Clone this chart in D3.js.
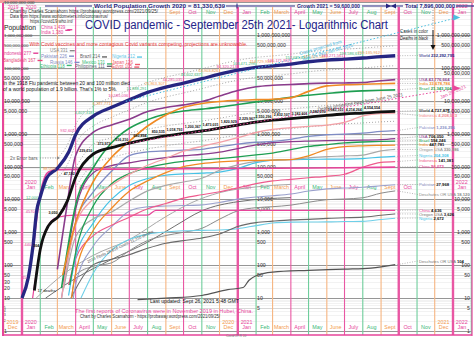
<!DOCTYPE html>
<html><head><meta charset="utf-8">
<script src="https://cdn.jsdelivr.net/npm/d3@7"></script>
<style>body{margin:0;background:#fff}svg{display:block;font-family:"Liberation Sans",Arial,sans-serif}</style>
</head><body><svg id="c" width="474" height="338"></svg>
<script>
// ---- data: cumulative counts, [date, value] ----
const worldCases = [["2020-01-01",10],["2020-01-12",45],["2020-01-20",440],["2020-01-26",4570],["2020-02-01",12000],["2020-02-12",45000],["2020-03-01",88000],["2020-03-20",270000],["2020-04-01",932605],["2020-05-01",3407318],["2020-06-01",6287771],["2020-07-01",10585036],["2020-08-01",17888291],["2020-09-01",25863307],["2020-10-01",34285035],["2020-11-01",46602637],["2020-12-01",63903826],["2021-01-01",84320213],["2021-02-01",103471298],["2021-03-01",114729918],["2021-04-01",130171892],["2021-05-01",152685630],["2021-06-01",171425548],["2021-07-01",183271561],["2021-08-01",198586612],["2021-09-01",219135912],["2021-09-25",232292795]];
const worldDeaths = [["2020-01-22",17],["2020-02-01",304],["2020-02-15",1600],["2020-03-03",3050],["2020-03-18",9000],["2020-04-01",47192],["2020-05-01",239610],["2020-06-01",373973],["2020-07-01",516210],["2020-08-01",680894],["2020-09-01",850535],["2020-10-01",1018793],["2020-11-01",1200367],["2020-12-01",1473031],["2021-01-01",1820929],["2021-02-01",2229967],["2021-03-01",2550296],["2021-04-01",2832107],["2021-05-01",3183601],["2021-06-01",3582210],["2021-07-01",3943103],["2021-08-01",4214264],["2021-09-01",4554554],["2021-09-25",4737877]];
const usaCases = [["2020-03-01",75],["2020-03-15",3500],["2020-04-01",215000],["2020-05-01",1100000],["2020-06-01",1840000],["2020-07-01",2740000],["2020-08-01",4710000],["2020-09-01",6180000],["2020-10-01",7450000],["2020-11-01",9400000],["2020-12-01",13900000],["2021-01-01",20400000],["2021-02-01",26600000],["2021-03-01",29400000],["2021-04-01",31000000],["2021-05-01",33000000],["2021-06-01",34100000],["2021-07-01",34600000],["2021-08-01",35800000],["2021-09-01",40500000],["2021-09-25",43776664]];
const indiaCases = [["2020-03-10",50],["2020-04-01",1998],["2020-05-01",35000],["2020-06-01",190000],["2020-07-01",585000],["2020-08-01",1700000],["2020-09-01",3690000],["2020-10-01",6300000],["2020-11-01",8180000],["2020-12-01",9460000],["2021-01-01",10290000],["2021-02-01",10760000],["2021-03-01",11100000],["2021-04-01",12200000],["2021-05-01",19200000],["2021-06-01",28200000],["2021-07-01",30400000],["2021-08-01",31700000],["2021-09-01",32800000],["2021-09-25",33678786]];
const brazilCases = [["2020-03-08",20],["2020-04-01",6800],["2020-05-01",92000],["2020-06-01",526000],["2020-07-01",1450000],["2020-08-01",2660000],["2020-09-01",3950000],["2020-10-01",4850000],["2020-11-01",5550000],["2020-12-01",6390000],["2021-01-01",7700000],["2021-02-01",9200000],["2021-03-01",10600000],["2021-04-01",12800000],["2021-05-01",14700000],["2021-06-01",16600000],["2021-07-01",18600000],["2021-08-01",19900000],["2021-09-01",20800000],["2021-09-25",21343304]];
const indonesiaCases = [["2020-03-08",10],["2020-04-01",1677],["2020-05-01",10500],["2020-06-01",26900],["2020-07-01",57800],["2020-08-01",109000],["2020-09-01",177000],["2020-10-01",292000],["2020-11-01",410000],["2020-12-01",543000],["2021-01-01",751000],["2021-02-01",1080000],["2021-03-01",1340000],["2021-04-01",1510000],["2021-05-01",1670000],["2021-06-01",1820000],["2021-07-01",2180000],["2021-08-01",3440000],["2021-09-01",4100000],["2021-09-25",4208013]];
const pakistanCases = [["2020-03-08",10],["2020-04-01",2039],["2020-05-01",16800],["2020-06-01",72000],["2020-07-01",213000],["2020-08-01",279000],["2020-09-01",296000],["2020-10-01",313000],["2020-11-01",333000],["2020-12-01",400000],["2021-01-01",482000],["2021-02-01",546000],["2021-03-01",581000],["2021-04-01",672000],["2021-05-01",820000],["2021-06-01",924000],["2021-07-01",958000],["2021-08-01",1030000],["2021-09-01",1170000],["2021-09-25",1236296]];
const oregonCases = [["2020-03-12",20],["2020-04-01",736],["2020-05-01",2579],["2020-06-01",4131],["2020-07-01",8931],["2020-08-01",18131],["2020-09-01",26713],["2020-10-01",33862],["2020-11-01",43955],["2020-12-01",76654],["2021-01-01",112260],["2021-02-01",143391],["2021-03-01",155536],["2021-04-01",163000],["2021-05-01",182000],["2021-06-01",199000],["2021-07-01",209000],["2021-08-01",223000],["2021-09-01",298000],["2021-09-25",330986]];
const nigeriaCases = [["2020-03-20",12],["2020-04-01",174],["2020-05-01",1932],["2020-06-01",10162],["2020-07-01",26484],["2020-08-01",43151],["2020-09-01",54247],["2020-10-01",59287],["2020-11-01",62853],["2020-12-01",67838],["2021-01-01",87510],["2021-02-01",131242],["2021-03-01",155657],["2021-04-01",162593],["2021-05-01",165110],["2021-06-01",166982],["2021-07-01",167867],["2021-08-01",174315],["2021-09-01",193658],["2021-09-25",204308]];
const chinaCases = [["2020-01-20",291],["2020-01-25",1975],["2020-02-01",14380],["2020-02-15",68500],["2020-03-01",79968],["2020-04-01",81554],["2020-07-01",83534],["2021-01-01",87071],["2021-07-01",91779],["2021-09-25",96073]];
const deschutesCases = [["2020-03-25",10],["2020-04-01",50],["2020-05-01",93],["2020-06-01",118],["2020-07-01",276],["2020-08-01",560],["2020-09-01",800],["2020-10-01",1000],["2020-11-01",1320],["2020-12-01",2500],["2021-01-01",4500],["2021-02-01",5600],["2021-03-01",6000],["2021-04-01",6700],["2021-05-01",8200],["2021-06-01",9800],["2021-07-01",10300],["2021-08-01",11200],["2021-09-01",15500],["2021-09-25",18120]];
const usaDeaths = [["2020-03-10",26],["2020-04-01",5100],["2020-05-01",65000],["2020-06-01",107000],["2020-07-01",130000],["2020-08-01",158000],["2020-09-01",187000],["2020-10-01",212000],["2020-11-01",236000],["2020-12-01",273000],["2021-01-01",352000],["2021-02-01",452000],["2021-03-01",530000],["2021-04-01",568000],["2021-05-01",591000],["2021-06-01",611000],["2021-07-01",622000],["2021-08-01",630000],["2021-09-01",657000],["2021-09-25",706050]];
const brazilDeaths = [["2020-03-22",25],["2020-04-01",240],["2020-05-01",6400],["2020-06-01",29900],["2020-07-01",60700],["2020-08-01",93000],["2020-09-01",121000],["2020-10-01",144000],["2020-11-01",159000],["2020-12-01",173000],["2021-01-01",195000],["2021-02-01",225000],["2021-03-01",255000],["2021-04-01",325000],["2021-05-01",407000],["2021-06-01",465000],["2021-07-01",520000],["2021-08-01",556000],["2021-09-01",581000],["2021-09-25",594246]];
const indiaDeaths = [["2020-03-25",10],["2020-04-01",58],["2020-05-01",1150],["2020-06-01",5400],["2020-07-01",17800],["2020-08-01",36500],["2020-09-01",65400],["2020-10-01",98700],["2020-11-01",122000],["2020-12-01",138000],["2021-01-01",149000],["2021-02-01",154000],["2021-03-01",157000],["2021-04-01",162000],["2021-05-01",212000],["2021-06-01",331000],["2021-07-01",400000],["2021-08-01",425000],["2021-09-01",439000],["2021-09-25",447781]];
const indonesiaDeaths = [["2020-03-20",25],["2020-04-01",157],["2020-05-01",792],["2020-06-01",1641],["2020-07-01",2876],["2020-08-01",5193],["2020-09-01",7505],["2020-10-01",10972],["2020-11-01",13869],["2020-12-01",17081],["2021-01-01",22329],["2021-02-01",29998],["2021-03-01",36325],["2021-04-01",40858],["2021-05-01",45521],["2021-06-01",50404],["2021-07-01",58024],["2021-08-01",95723],["2021-09-01",133676],["2021-09-25",141381]];
const pakistanDeaths = [["2020-03-28",10],["2020-04-01",26],["2020-05-01",385],["2020-06-01",1483],["2020-07-01",4395],["2020-08-01",5951],["2020-09-01",6298],["2020-10-01",6499],["2020-11-01",6795],["2020-12-01",8091],["2021-01-01",10176],["2021-02-01",11802],["2021-03-01",12896],["2021-04-01",14530],["2021-05-01",17957],["2021-06-01",20850],["2021-07-01",22281],["2021-08-01",23360],["2021-09-01",25889],["2021-09-25",27968]];
const chinaDeaths = [["2020-01-19",10],["2020-01-25",56],["2020-02-01",304],["2020-02-15",1666],["2020-03-01",2870],["2020-04-01",3312],["2020-08-01",3330],["2020-08-15",4634],["2021-09-25",4636]];
const oregonDeaths = [["2020-03-24",10],["2020-04-01",19],["2020-05-01",104],["2020-06-01",151],["2020-07-01",209],["2020-08-01",326],["2020-09-01",465],["2020-10-01",560],["2020-11-01",674],["2020-12-01",889],["2021-01-01",1502],["2021-02-01",1974],["2021-03-01",2181],["2021-04-01",2385],["2021-05-01",2468],["2021-06-01",2650],["2021-07-01",2768],["2021-08-01",2893],["2021-09-01",3290],["2021-09-25",3626]];
const nigeriaDeaths = [["2020-04-10",10],["2020-05-01",58],["2020-06-01",287],["2020-07-01",603],["2020-08-01",879],["2020-09-01",1023],["2020-10-01",1111],["2020-11-01",1145],["2020-12-01",1173],["2021-01-01",1289],["2021-02-01",1598],["2021-03-01",1907],["2021-04-01",2041],["2021-05-01",2063],["2021-06-01",2069],["2021-07-01",2120],["2021-08-01",2149],["2021-09-01",2444],["2021-09-25",2672]];
const deschutesDeaths = [["2020-07-15",9],["2020-09-01",10],["2020-11-01",12],["2020-12-15",18],["2021-01-10",21],["2021-01-20",35],["2021-02-01",48],["2021-03-01",62],["2021-05-01",70],["2021-07-01",76],["2021-08-15",82],["2021-09-25",104]];
const ebolaCases = [["2020-01-25",10],["2020-03-15",60],["2020-05-01",200],["2020-07-01",600],["2020-09-01",3000],["2020-10-15",8000],["2020-12-01",16000],["2021-02-01",24000],["2021-04-01",28616]];
const ebolaDeaths = [["2020-02-10",10],["2020-04-01",40],["2020-06-01",150],["2020-08-01",500],["2020-09-15",1500],["2020-11-01",4500],["2021-01-01",8500],["2021-04-01",11310]];

// world population (millions) shown at the top left
const popNames = ["China","India","USA","Indonesia","Pakistan","Brazil","Nigeria","Bangladesh","Russia","Mexico","Japan","Ethiopia","Philippines","Egypt"];
const popValues = [1439,1380,331,277,226,214,212,167,146,131,126,118,111,105];

const monthNames = ["Jan","Feb","March","April","May","June","July","Aug","Sept","Oct","Nov","Dec"];
const leftTicks = [1e10,1e9,5e8,1e8,5e7,1e7,5e6,1e6,5e5,1e5,5e4,1e4,5e3,1e3,500,100,50,30,20,10,5,4,3,2,1];
const midTicks = [1e9,5e8,5e7,1e7,5e6,1e6,5e5,1e5,5e4,1e4,5e3,1e3,500,100,50,10,5];
const rightTicks = [1e9,5e8,1e8,5e7,1e7,5e6,1e6,5e5,1e5,5e4,1e4,5e3,1e3,500,100,50,10,5,1];

// ---- scales ----
const P = d3.utcParse("%Y-%m-%d");
const fmt = d3.format(",");
const x = d3.scaleUtc().domain([P("2020-01-01"), P("2022-01-01")]).range([22, 453]);
const y = d3.scaleLog().domain([1, 1e10]).range([331, 2]);
const svg = d3.select("#c");

const PINK = "#e6459a", GREEN = "#3cb878", ORANGE = "#f39a4e";
const lineCol = ["#e957a3", "#6fcd9c", "#f6b581"];
const textCol = [PINK, GREEN, ORANGE];
const mIdx = m => ((m % 3) + 3) % 3;

// top band
svg.append("rect").attr("x", 0).attr("y", 0).attr("width", 474).attr("height", 3).attr("fill", "#f3a0a0");

// horizontal grid
const grid = [];
for (let e = 0; e < 10; e++) for (let k = 1; k < 10; k++) grid.push({v: k * Math.pow(10, e), k});
grid.push({v: 1e10, k: 1});
svg.append("g").selectAll("line").data(grid).join("line")
  .attr("x1", 3).attr("x2", 472)
  .attr("y1", d => Math.round(y(d.v)) + 0.5).attr("y2", d => Math.round(y(d.v)) + 0.5)
  .attr("stroke", d => d.k === 1 ? "#969696" : d.k === 5 ? "#c6c6c6" : "#ededed")
  .attr("stroke-width", d => d.k === 1 ? 1.1 : 0.7);

// vertical month lines
const months = d3.range(-1, 26).map(m => ({m, d: new Date(Date.UTC(2020, m, 1))}));
svg.append("g").selectAll("line").data(months).join("line")
  .attr("x1", d => x(d.d)).attr("x2", d => x(d.d)).attr("y1", 7).attr("y2", 335)
  .attr("stroke", d => lineCol[mIdx(d.m)])
  .attr("stroke-width", d => (d.m % 12 === 0 || d.m === 21) ? 2.4 : 1.1);
// frame
svg.append("line").attr("x1", 3).attr("x2", 3).attr("y1", 3).attr("y2", 336).attr("stroke", PINK).attr("stroke-width", 2);
svg.append("line").attr("x1", 472).attr("x2", 472).attr("y1", 3).attr("y2", 336).attr("stroke", PINK).attr("stroke-width", 1.2);
svg.append("line").attr("x1", 3).attr("x2", 472).attr("y1", 335).attr("y2", 335).attr("stroke", PINK).attr("stroke-width", 1.5);

// month label rows
function monthRow(yPos, list, yearFor, yearGap) {
  const g = svg.append("g").attr("font-size", 5.4).attr("text-anchor", "middle");
  list.forEach(m => {
    const mid = new Date(Date.UTC(2020, m, 16));
    const c = textCol[mIdx(m)];
    g.append("text").attr("x", x(mid)).attr("y", yPos).attr("fill", c).text(monthNames[((m % 12) + 12) % 12]);
    const yr = yearFor(m);
    if (yr) g.append("text").attr("x", x(mid)).attr("y", yPos - yearGap).attr("fill", c).text(yr);
  });
}
const yearEnds = m => { const mm = ((m % 12) + 12) % 12; return (mm === 0 || mm === 11) ? String(2020 + Math.floor(m / 12)) : null; };
monthRow(329, d3.range(-1, 25), yearEnds, 5);
monthRow(189, d3.range(0, 22).concat([24]), m => (m === 0 || m === 24) ? String(2020 + m / 12) : null, 5.5);
monthRow(13.5, d3.range(8, 25), m => m === 24 ? "2022" : null, 5.5);
svg.append("text").attr("x", 13).attr("y", 8.8).attr("font-size", 4.8).attr("fill", PINK).attr("text-anchor", "middle").text("2019");
svg.append("text").attr("x", 31).attr("y", 8.8).attr("font-size", 4.8).attr("fill", PINK).attr("text-anchor", "middle").text("2020");

// axis labels: left, middle and right
const fmtTick = d => fmt(d);
svg.append("g").attr("fill", "#333").selectAll("text").data(leftTicks).join("text")
  .attr("x", 4).attr("y", d => d === 1e10 ? 3.6 : y(d) + (d < 10 && d > 1 ? 1 : 2))
  .attr("font-size", d => d < 10 && d > 1 ? 3 : (d >= 1e8 ? 4.4 : 5.2)).text(fmtTick);
svg.append("g").attr("font-size", 5.2).attr("fill", "#333").selectAll("text").data(midTicks).join("text")
  .attr("x", 257).attr("y", d => y(d) + 2).text(fmtTick);
svg.append("g").attr("font-size", 5.2).attr("fill", "#333").attr("text-anchor", "end").selectAll("text").data(rightTicks).join("text")
  .attr("x", 470).attr("y", d => y(d) + (d === 5e7 ? -3 : 2)).text(fmtTick);

// ---- series ----
const line = d3.line().x(d => x(P(d[0]))).y(d => y(d[1])).curve(d3.curveMonotoneX);
const dotted = (arr, k) => arr.map(d => [d[0], d[1] * k]);
const series = [
  {data: ebolaCases, color: "#a8a8a8", w: 1},
  {data: ebolaDeaths, color: "#6f6f6f", w: 1},
  {data: deschutesDeaths, color: "#555", w: 1.2},
  {data: deschutesCases, color: "#8c8c8c", w: 1},
  {data: nigeriaDeaths, color: "#6fcfe8", w: 1.1},
  {data: oregonDeaths, color: "#6a6a6a", w: 1.1},
  {data: chinaDeaths, color: PINK, w: 1.2},
  {data: pakistanDeaths, color: "#9aa0cc", w: 1.1},
  {data: indonesiaDeaths, color: "#ee5b8e", w: 1.2},
  {data: nigeriaCases, color: "#45c2e6", w: 1.2},
  {data: oregonCases, color: "#a9a9a9", w: 1.2},
  {data: indiaDeaths, color: "#f08a24", w: 1.3},
  {data: brazilDeaths, color: "#1f9e52", w: 1.3},
  {data: usaDeaths, color: "#8a3c8c", w: 1.3},
  {data: pakistanCases, color: "#7f8cc4", w: 1.3},
  {data: chinaCases, color: PINK, w: 1.7},
  {data: indonesiaCases, color: "#f2a0a6", w: 1.3},
  {data: brazilCases, color: "#1f9e52", w: 1.6},
  {data: indiaCases, color: "#f08a24", w: 1.6},
  {data: usaCases, color: "#8a3c8c", w: 1.6}
];
// 2x error bands
[[worldCases, "2020-03-01"], [worldDeaths, "2020-04-01"]].forEach(([arr, from]) => {
  const part = arr.filter(d => d[0] >= from);
  [2, 0.5].forEach(k => svg.append("path").attr("d", line(dotted(part, k))).attr("fill", "none")
    .attr("stroke", "#8f8f8f").attr("stroke-width", 0.8).attr("stroke-dasharray", "1,2"));
});
series.forEach(s => svg.append("path").attr("d", line(s.data)).attr("fill", "none")
  .attr("stroke", s.color).attr("stroke-width", s.w));
svg.append("path").attr("d", line(worldDeaths)).attr("fill", "none").attr("stroke", "#111").attr("stroke-width", 2.8);
svg.append("path").attr("d", line(worldCases)).attr("fill", "none").attr("stroke", "#262682").attr("stroke-width", 3.3);

// projections
const casesProjection = [["2020-06-25", 9600000], ["2022-01-10", 3.4e9]];
const deathsProjection = [["2020-06-25", 490000], ["2022-01-10", 2.4e7]];
const straight = d3.line().x(d => x(P(d[0]))).y(d => y(d[1]));
svg.append("path").attr("d", straight(casesProjection)).attr("stroke", "#4cc0e0").attr("stroke-width", 1).attr("stroke-dasharray", "1.5,2").attr("fill", "none");
svg.append("path").attr("d", straight(deathsProjection)).attr("stroke", "#e8479b").attr("stroke-width", 1).attr("stroke-dasharray", "1.5,2").attr("fill", "none");
function tri(pt, color) {
  const px = x(P(pt[0])), py = y(pt[1]);
  svg.append("path").attr("d", `M${px - 5},${py - 3}L${px + 2},${py}L${px - 5},${py + 3}Z`).attr("fill", color);
}
tri(casesProjection[1], "#4cc0e0");
tri(deathsProjection[1], "#e8479b");

// point labels along world curves
const lg = svg.append("g").attr("font-size", 4).attr("text-anchor", "end");
worldCases.filter(d => d[0] >= "2020-04-01" && d[0] <= "2021-09-01").forEach(d => {
  const m = P(d[0]).getUTCMonth();
  lg.append("text").attr("x", x(P(d[0])) - 1).attr("y", y(d[1]) - 2.5).attr("fill", textCol[m % 3]).text(fmt(d[1]));
});
worldCases.filter(d => ["2020-01-12","2020-01-20","2020-01-26"].includes(d[0])).forEach(d =>
  lg.append("text").attr("x", x(P(d[0])) - 2).attr("y", y(d[1]) + 2).attr("fill", PINK).text(String(d[1])));
[["2020-02-01", GREEN], ["2020-03-01", ORANGE]].forEach(([k, c]) => {
  const d = worldCases.find(v => v[0] === k);
  lg.append("text").attr("x", x(P(d[0])) - 2).attr("y", y(d[1]) + 2).attr("fill", c).text(fmt(d[1]));
});
worldDeaths.filter(d => d[0] >= "2020-02-01" && d[0] <= "2021-09-01" && !["2020-02-15","2020-03-18"].includes(d[0])).forEach(d => {
  lg.append("text").attr("x", x(P(d[0])) - 1).attr("y", y(d[1]) - 2.5).attr("fill", "#111").attr("font-size", 3.6).attr("font-weight", "bold").text(fmt(d[1]));
});
svg.append("text").attr("x", x(P(worldDeaths[0][0])) + 3).attr("y", y(17) + 1.5).attr("font-size", 4.2).attr("fill", "#111").text("17 deaths");

// end labels on the right
const endLabels = [
  {s: worldCases, name: "World", c: "#262682", ly: 57, nc: "#262682"},
  {s: usaCases, name: "USA", c: "#8a3c8c", ly: 80.5},
  {s: indiaCases, name: "India", c: "#f08a24", ly: 85},
  {s: brazilCases, name: "Brazil", c: "#1f9e52", ly: 90},
  {s: worldDeaths, name: "World", c: "#111", ly: 112, nc: "#111"},
  {s: indonesiaCases, name: "Indonesia", c: "#f08a90", ly: 117},
  {s: pakistanCases, name: "Pakistan", c: "#7f8cc4", ly: 129},
  {s: usaDeaths, name: "USA", c: "#8a3c8c", ly: 138, nc: "#111"},
  {s: brazilDeaths, name: "Brazil", c: "#1f9e52", ly: 142, nc: "#111"},
  {s: indiaDeaths, name: "India", c: "#f08a24", ly: 146, nc: "#111"},
  {s: oregonCases, name: "Oregon USA", c: "#8c8c8c", ly: 151},
  {s: nigeriaCases, name: "Nigeria", c: "#45c2e6", ly: 157},
  {s: indonesiaDeaths, name: "Indonesia", c: "#ee5b8e", ly: 161.5, nc: "#111"},
  {s: chinaCases, name: "China", c: PINK, ly: 168},
  {s: pakistanDeaths, name: "Pakistan", c: "#8a90c0", ly: 186, nc: "#111"},
  {s: deschutesCases, name: "Deschutes OR USA", c: "#888", ly: 196},
  {s: chinaDeaths, name: "China", c: PINK, ly: 211.5, nc: "#111"},
  {s: oregonDeaths, name: "Oregon USA", c: "#777", ly: 215.5, nc: "#111"},
  {s: nigeriaDeaths, name: "Nigeria", c: "#45c2e6", ly: 219.5, nc: "#111"},
  {s: deschutesDeaths, name: "Deschutes OR USA", c: "#777", ly: 262.5, nc: "#111"}
];
const eg = svg.append("g").attr("font-size", 4.2);
endLabels.forEach(L => {
  const last = L.s[L.s.length - 1];
  eg.append("line").attr("x1", x(P(last[0])) + 2).attr("x2", 418).attr("y1", y(last[1])).attr("y2", L.ly - 1.5)
    .attr("stroke", "#999").attr("stroke-width", 0.7).attr("stroke-dasharray", "1,1.5");
  const t = eg.append("text").attr("x", 419).attr("y", L.ly);
  t.append("tspan").attr("fill", L.c).text(L.name + " ");
  t.append("tspan").attr("fill", L.nc || L.c).attr("font-weight", "bold").text(fmt(last[1]));
});

// population markers
const popLayout = [[41,0],[41,0],[50,0],[3,0],[41,0],[80,0],[112,0],[3,0],[50,0],[82,0],[112,0],[40,0],[75,0],[112,0]];
const popCols = [PINK, PINK, "#888", PINK, "#7f8cc4", "#666", "#5fc8e8", "#e8477a", "#7f8cc4", GREEN, "#ee5b6e", GREEN, "#667", "#ee5b6e"];
const popY = [28.8, 33.6, 52, 54.5, 57.8, 57.8, 57.8, 62, 63.6, 63.6, 63.6, 68, 68, 68];
const pg = svg.append("g").attr("font-size", 4.5);
popNames.forEach((n, i) => {
  const t = pg.append("text").attr("x", popLayout[i][0]).attr("y", popY[i]).attr("fill", popCols[i]).text(`${n} ${fmt(popValues[i])}`);
  const w = t.node().getComputedTextLength();
  const bx = popLayout[i][0] + w + 2, by = y(popValues[i] * 1e6);
  pg.append("line").attr("x1", bx).attr("x2", bx + 5).attr("y1", by).attr("y2", by).attr("stroke", popCols[i]).attr("stroke-width", 1.4);
});

// top line: world population
const topG = svg.append("g").attr("font-size", 5.8).attr("font-weight", "bold").attr("fill", "#262682");
[[45, 92], [226, 295], [362, 403], [456, 474]].forEach(([a, b]) => topG.append("line").attr("x1", a).attr("x2", b).attr("y1", 6).attr("y2", 6).attr("stroke", "#262682").attr("stroke-width", 1.2));
topG.append("text").attr("x", 94).attr("y", 8).attr("textLength", 131).attr("lengthAdjust", "spacingAndGlyphs").text("World Population Growth 2020 = 81,330,639");
topG.append("text").attr("x", 297).attr("y", 8).attr("textLength", 63).attr("lengthAdjust", "spacingAndGlyphs").text("Growth 2021 = 59,600,000");
topG.append("text").attr("x", 405).attr("y", 8).attr("textLength", 50).attr("lengthAdjust", "spacingAndGlyphs").text("Total 7,896,000,000");
topG.append("line").attr("x1", 237).attr("x2", 237).attr("y1", 3.5).attr("y2", 8.5).attr("stroke", "#262682").attr("stroke-width", 1);
topG.append("path").attr("d", "M386,3.5L391,6L386,8.5ZM396,3.5L391,6L396,8.5Z").attr("fill", "#262682");

// text blocks
const T = (tx, ty, s, size, col, len) => {
  const t = svg.append("text").attr("x", tx).attr("y", ty).attr("font-size", size).attr("fill", col).text(s);
  if (len) t.attr("textLength", len).attr("lengthAdjust", "spacingAndGlyphs");
  return t;
};
T(10, 12.5, "Chart by Charles Scamahorn https://probaway.wordpress.com/2021/09/25/", 4.8, "#333", 148);
T(10, 17.5, "Data from https://www.worldometers.info/coronavirus/", 4.8, "#333", 98);
T(30, 23, "https://covid19.who.int/", 4.8, "#333", 43);
T(4, 29.5, "Population", 7.6, "#222", 32);
T(85, 28.5, "COVID pandemic - September 25th 2021- Logarithmic Chart", 12, "#26268a", 303);
T(29.5, 46, "With Covid vaccines and more contagious Covid variants competing, projections are unknowable.", 5, "#e83434", 218);
T(3, 84.5, "In the 1918 Flu pandemic between 20 and 100 million died", 5, "#111", 127);
T(3, 91, "of a world population of 1.9 billion. That's 1% to 5%.", 5, "#111", 114);
T(10, 159.5, "2x Error bars", 4.8, "#666");
svg.append("line").attr("x1", 40).attr("x2", 57).attr("y1", 158).attr("y2", 158).attr("stroke", "#888").attr("stroke-width", 0.8).attr("stroke-dasharray", "1,1.5");
svg.append("path").attr("d", "M57,156.3L60,158L57,159.7Z").attr("fill", "#888");
T(400, 33, "Cases in color", 4.6, "#333", 28);
T(400, 39.5, "Deaths in black", 4.6, "#111", 28).attr("font-style", "italic");
svg.append("line").attr("x1", 433).attr("x2", 433).attr("y1", 10).attr("y2", 30).attr("stroke", "#999").attr("stroke-dasharray", "1,1.5");
svg.append("line").attr("x1", 433).attr("x2", 433).attr("y1", 30).attr("y2", 46).attr("stroke", "#111").attr("stroke-width", 1);
svg.append("path").attr("d", "M430.5,45L433,50L435.5,45Z").attr("fill", "#111");
T(150, 303, "Last updated: Sept 26, 2021 5:48 GMT", 5.3, "#111", 89);
T(75, 312.5, "The first reports of Coronavirus were in November 2019 in Hubei, China.", 5.3, "#e6459a", 178);
T(80, 318, "Chart by Charles Scamahorn - https://probaway.wordpress.com/2021/09/25/", 4.8, "#333", 140);
T(226, 337, "Covid 19 R 10", 3.2, "#777");

// rotated annotations
const rot = (tx, ty, ang, s, size, col) => svg.append("text").attr("transform", `translate(${tx},${ty}) rotate(${ang})`).attr("font-size", size).attr("fill", col).text(s);
rot(88, 263, -25, "2014 Ebola 28,616 cases, 11,310 deaths", 4, "#555");
rot(300, 55, -16, "Cases projected from", 4.6, "#3cb5dc");
rot(302, 61, -16, "June 25 thru Jan 25, 2021", 4.6, "#3cb5dc");
rot(318, 111, -10, "Deaths projection base from June 25 2021", 4.6, "#555");
rot(441, 99, -24, "Jan 25, 2021", 4.8, PINK);
</script></body></html>
